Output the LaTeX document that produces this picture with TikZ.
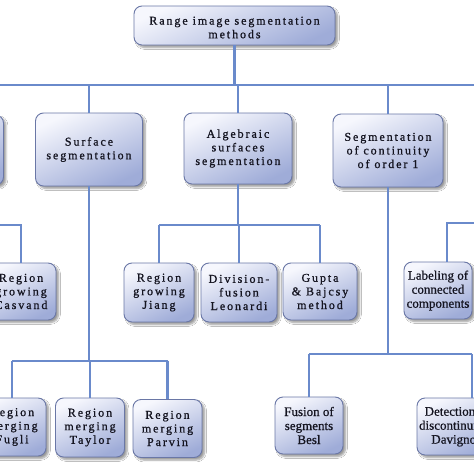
\documentclass[tikz,border=0pt]{standalone}
\usepackage{fontspec}
\setmainfont[FakeBold=0.7]{Liberation Serif}
\newfontfamily\spaced[LetterSpace=16, FakeBold=0.9]{Liberation Serif}
\usetikzlibrary{shadows.blur,calc}
\definecolor{linec}{HTML}{6A8ACB}
\definecolor{boxedge}{HTML}{6A77A6}
\definecolor{boxlight}{HTML}{F6F7FD}
\definecolor{boxdark}{HTML}{9FACD8}
\definecolor{txt}{HTML}{141420}
\tikzset{
  box/.style={draw=boxedge, line width=0.9pt, rounded corners=8pt,
    top color=boxlight, bottom color=boxdark, shading angle=25,
    blur shadow={shadow xshift=2.5pt, shadow yshift=-2.5pt, shadow opacity=40, shadow blur steps=6},
    inner sep=0pt, align=center, text=txt},
  sp/.style={font=\spaced\fontsize{12}{13.6}\selectfont},
  pl/.style={font=\fontsize{13}{14}\selectfont},
  conn/.style={draw=linec, line width=2.8pt}
}
\begin{document}
\begin{tikzpicture}[x=1pt,y=-1pt]
\useasboundingbox (0,0) rectangle (474,474);
\fill[white] (0,0) rectangle (474,474);
\clip (0,0) rectangle (474,474);

% coordinates for buses
\coordinate (b1L) at (-5,85);
\coordinate (b1R) at (480,85);
\coordinate (b2) at (0,361);
\coordinate (b3) at (0,225);
\coordinate (b4) at (0,354);
\coordinate (dd) at (472,354);
\coordinate (cL) at (-5,225);
\coordinate (lR) at (480,223);
\coordinate (lx) at (447,0);

% nodes
\node[box, minimum width=201, minimum height=39] (top) at (234.5,25.5) {};
\node[sp, text=txt, align=center, inner sep=0pt] (toptext) at (234.5,27.5) {Range image segmentation\\methods};
\node[box, minimum width=103, minimum height=70] (leftcat) at (-48,150) {};
\node[box, sp, minimum width=107, minimum height=73] (surf) at (89,149.5) {Surface\\segmentation};
\node[box, sp, minimum width=108, minimum height=71] (alg) at (238,148.5) {Algebraic\\surfaces\\segmentation};
\node[box, sp, minimum width=110, minimum height=73] (cont) at (388,150.5) {Segmentation\\of continuity\\of order 1};

\node[box, sp, minimum width=70, minimum height=57] (casvand) at (21,291.5) {Region\\growing\\Casvand};
\node[box, sp, minimum width=70, minimum height=59] (jiang) at (159,292.5) {Region\\growing\\Jiang};
\node[box, sp, minimum width=76, minimum height=59] (leonardi) at (239,292.5) {Division-\\fusion\\Leonardi};
\node[box, sp, minimum width=74, minimum height=57] (gupta) at (320,291.5) {Gupta\\\& Bajcsy\\method};
\node[box, pl, minimum width=68, minimum height=57] (lab) at (438,290.5) {Labeling of\\connected\\components};

\node[box, sp, minimum width=68, minimum height=58] (fugli) at (12,427) {Region\\merging\\Fugli};
\node[box, sp, minimum width=69, minimum height=59] (taylor) at (90,427.5) {Region\\merging\\Taylor};
\node[box, sp, minimum width=69, minimum height=58] (parvin) at (167.5,428.5) {Region\\merging\\Parvin};
\node[box, pl, minimum width=68, minimum height=57] (besl) at (309,425.5) {Fusion of\\segments\\Besl};
\node[box, pl, minimum width=80, minimum height=57] (detect) at (457,426.5) {Detection of\\discontinuities\\Davignon};

% connectors
\draw[conn] (b1L) -- (b1R);
\draw[conn] (top.south) -- (top.south |- b1L);
\draw[conn] (leftcat.north |- b1L) -- (leftcat.north);
\draw[conn] (surf.north |- b1L) -- (surf.north);
\draw[conn] (alg.north |- b1L) -- (alg.north);
\draw[conn] (cont.north |- b1L) -- (cont.north);

\draw[conn] (surf.south) -- (surf.south |- b2);
\draw[conn] (fugli.north |- b2) -- (parvin.north |- b2);
\draw[conn] (fugli.north |- b2) -- (fugli.north);
\draw[conn] (taylor.north |- b2) -- (taylor.north);
\draw[conn] (parvin.north |- b2) -- (parvin.north);

\draw[conn] (alg.south) -- (alg.south |- b3);
\draw[conn] (jiang.north |- b3) -- (gupta.north |- b3);
\draw[conn] (jiang.north |- b3) -- (jiang.north);
\draw[conn] (leonardi.north |- b3) -- (leonardi.north);
\draw[conn] (gupta.north |- b3) -- (gupta.north);

\draw[conn] (cont.south) -- (cont.south |- b4);
\draw[conn] (besl.north |- b4) -- (dd);
\draw[conn] (besl.north |- b4) -- (besl.north);
\draw[conn] (dd) -- (detect.north -| dd);

\draw[conn] (cL) -| (casvand.north);
\draw[conn] (lR) -| (lab.north -| lx);
\end{tikzpicture}
\end{document}
